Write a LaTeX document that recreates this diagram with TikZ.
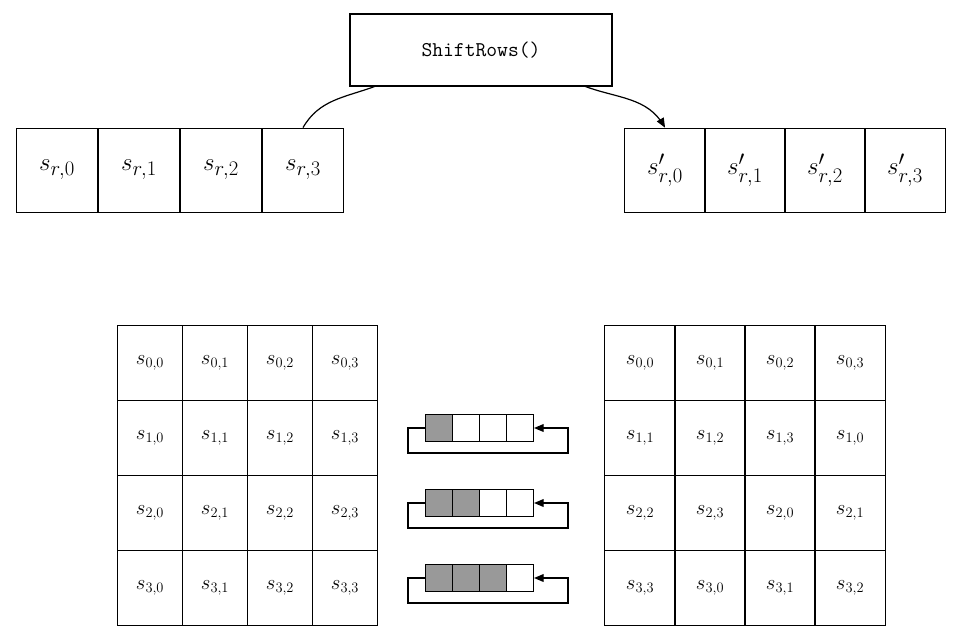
\documentclass[tikz,border=0pt]{standalone}
\usepackage{amsmath}
\usepackage{tikz}
\usetikzlibrary{arrows,positioning}
\tikzstyle{cell} = [draw, thick, minimum width=81pt, minimum height=84pt, inner sep=0pt, font=\fontsize{30}{30}\selectfont]
\tikzstyle{gcell} = [draw, minimum width=65pt, minimum height=75pt, inner sep=0pt, font=\fontsize{21}{21}\selectfont]
\tikzstyle{bit} = [draw, very thick, minimum width=27pt, minimum height=27pt, inner sep=0pt]
\tikzset{
  line/.style ={draw, very thick, shorten >=0pt}
}
\begin{document}
\begin{tikzpicture}[x=1pt,y=-1pt,>=triangle 45]
  \useasboundingbox (0,0) rectangle (957,642);
  \node[draw,very thick,minimum width=262pt,minimum height=72pt,font=\fontsize{21}{21}\selectfont\ttfamily] (shift) at (481,50) {ShiftRows()};

  % single row, before and after
  \foreach \c in {0,...,3} {
    \node[cell] (in\c) at (57+82*\c,170) {$s_{r,\c}$};
    \node[cell] (out\c) at (665+80*\c,170) {$s'_{r,\c}$};
  }
  \path[line] (in3.north) to[out=60,in=200] ([xshift=25pt]shift.south west);
  \path[line,->] ([xshift=-27pt]shift.south east) to[out=-20,in=120] (out0.north);

  % state before and after
  \foreach \r in {0,...,3} {
    \foreach \c in {0,...,3} {
      \pgfmathtruncatemacro{\s}{mod(\c+\r,4)}
      \node[gcell] (a\r\c) at (150+65*\c,363+75*\r) {$s_{\r,\c}$};
      \node[gcell,minimum width=71pt] (b\r\c) at (640+70*\c,363+75*\r) {$s_{\r,\s}$};
    }
  }

  % rotation icons
  \foreach \r in {1,2,3} {
    \foreach \k in {0,...,3} {
      \ifnum\k<\r \def\fc{gray!80} \else \def\fc{white} \fi
      \node[bit,fill=\fc] (r\r b\k) at (439+27*\k,353+75*\r) {};
    }
    \coordinate (r\r L) at (408,353+75*\r);
    \coordinate (r\r R) at (568,353+75*\r);
    \path[line,->] (r\r b0.west) -- (r\r L) -- ++(0,25) -| (r\r R) -- (r\r b3.east);
  }
\end{tikzpicture}
\end{document}
